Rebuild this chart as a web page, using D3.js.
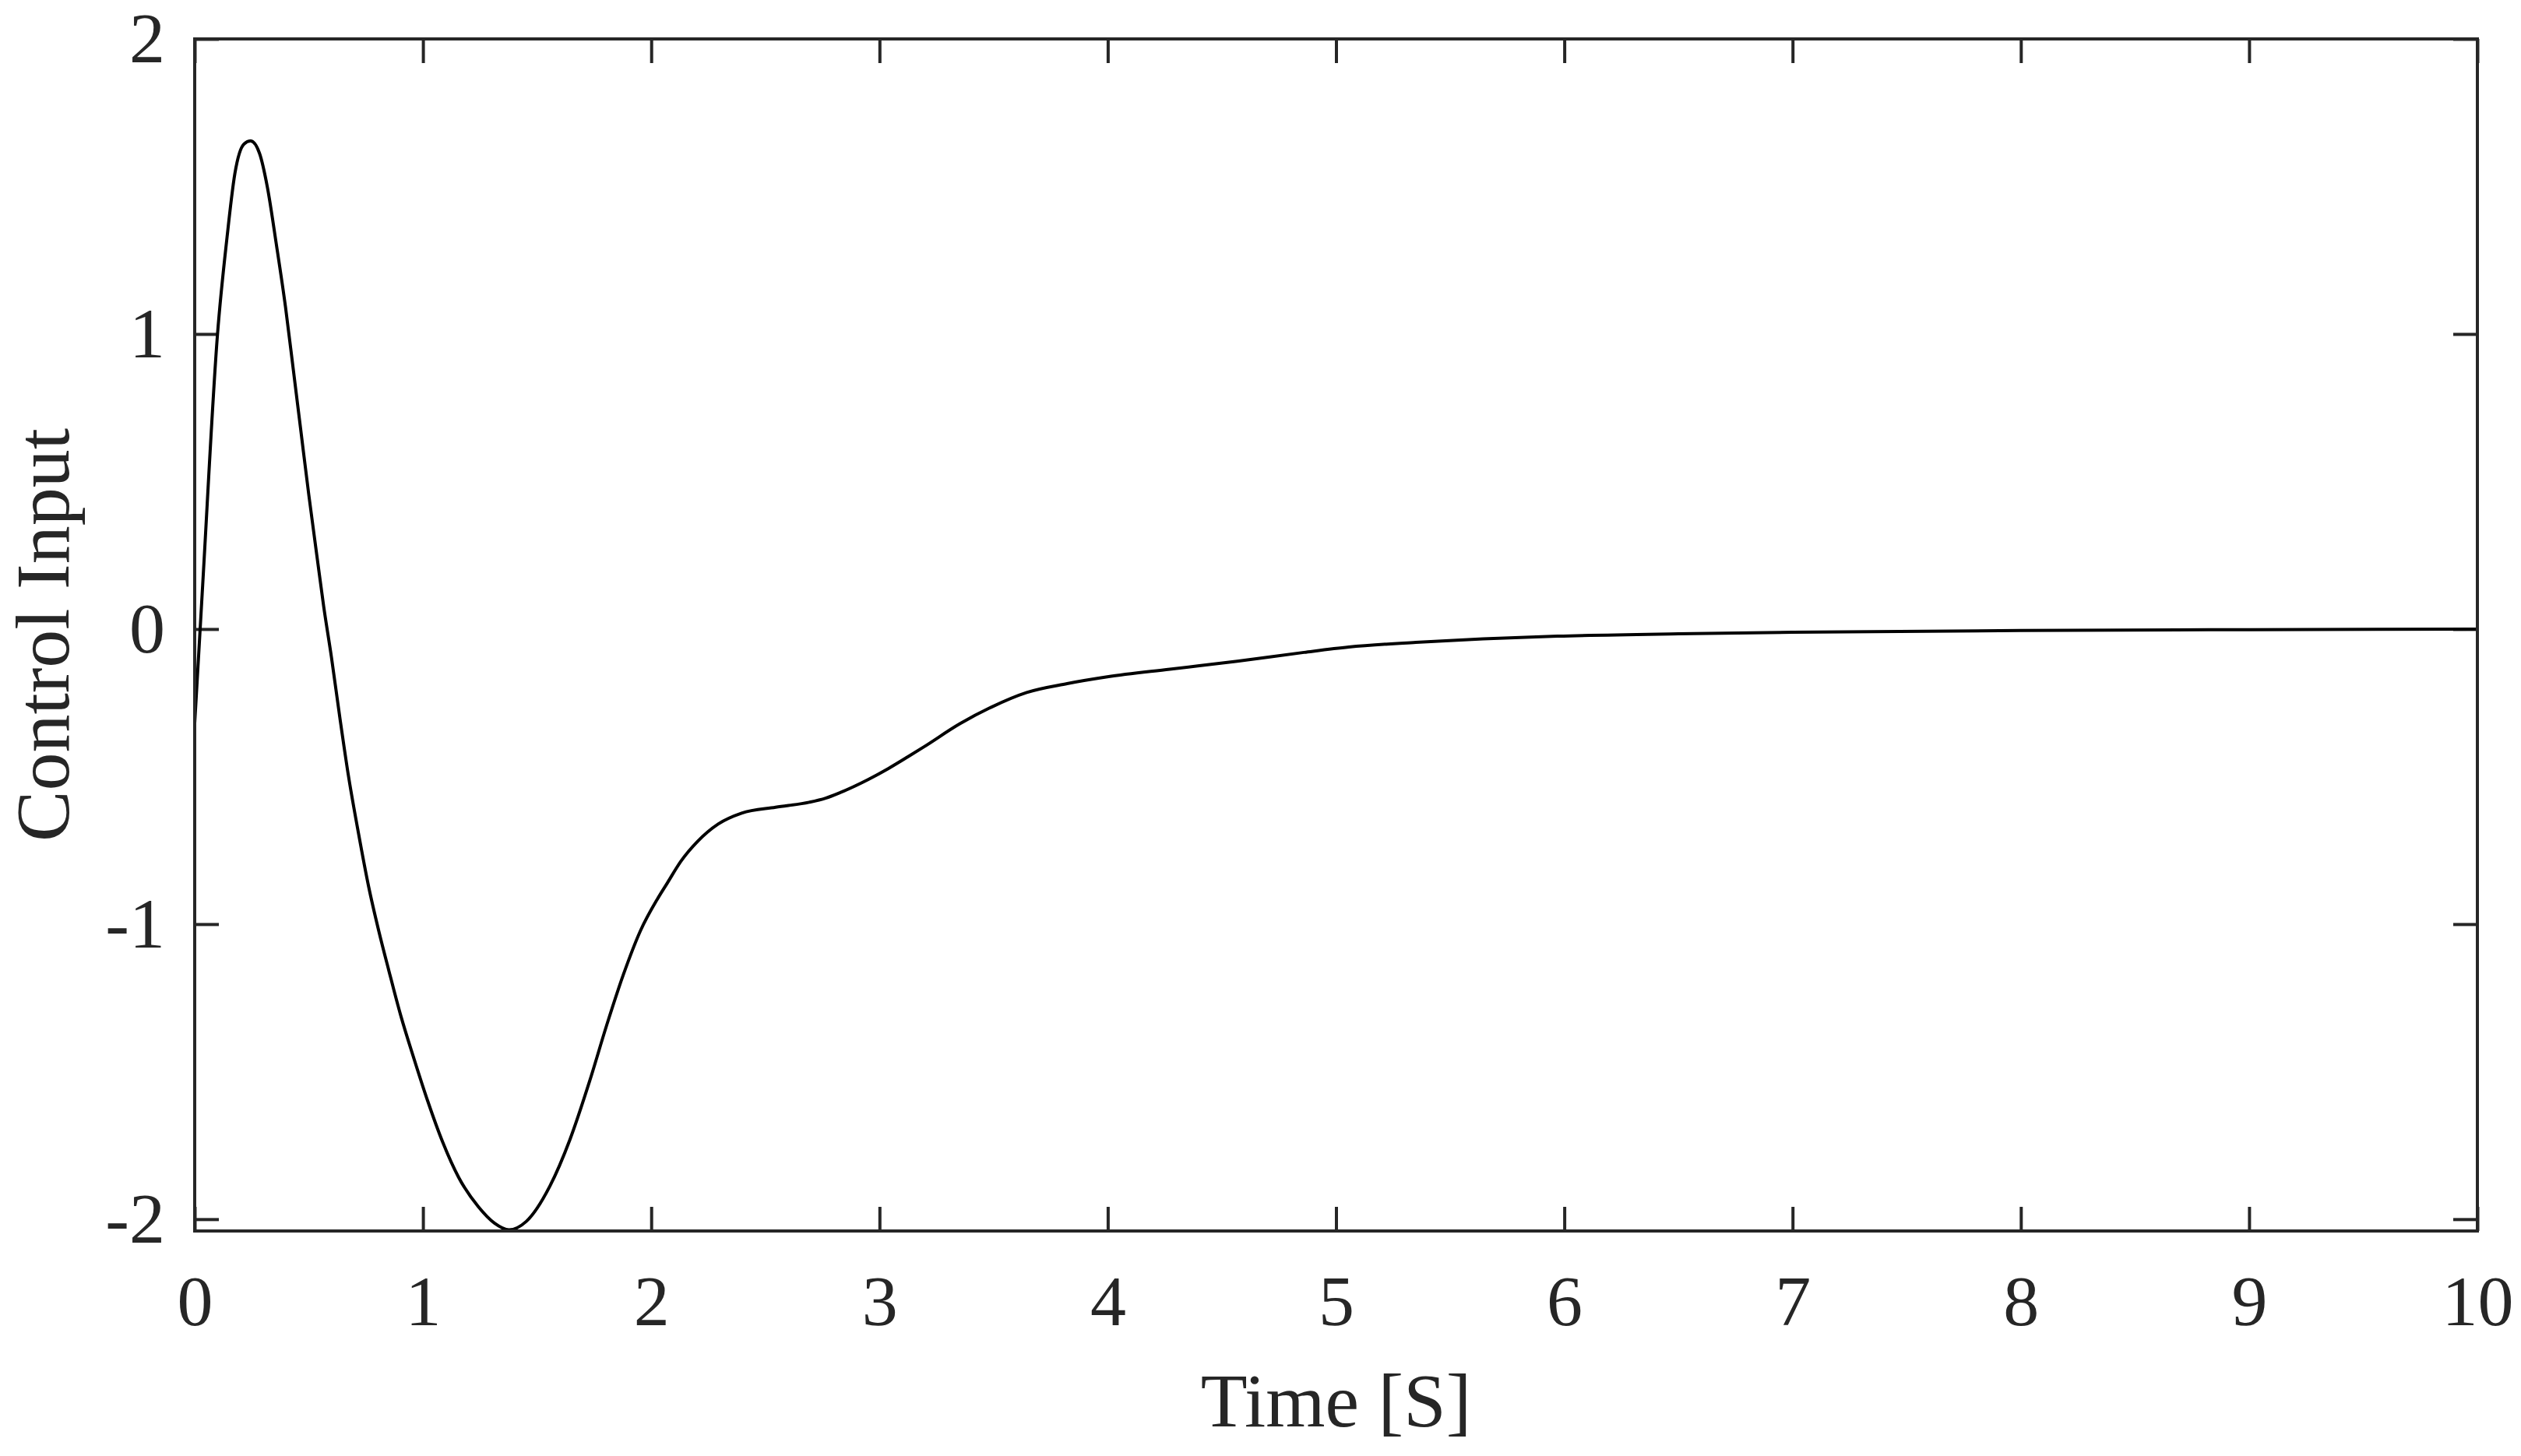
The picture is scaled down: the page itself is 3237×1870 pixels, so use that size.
<!DOCTYPE html>
<html>
<head>
<meta charset="utf-8">
<script src="https://cdn.jsdelivr.net/npm/d3@7"></script>
<style>
    body { margin: 0; background: #fff; }
    svg text { font-family: "Liberation Serif", "Times New Roman", serif; fill: #262626; }
</style>
</head>
<body>
<svg id="chart" width="3237" height="1870"></svg>
<script>
// Control input over time
const timeValues = [
    0, 0.035, 0.1, 0.142, 0.176, 0.216, 0.245, 0.284, 0.318, 0.358,
    0.398, 0.432, 0.466, 0.5, 0.535, 0.565, 0.599, 0.636, 0.673, 0.717,
    0.762, 0.806, 0.851, 0.902, 0.961, 1.021, 1.087, 1.156, 1.243, 1.313,
    1.377, 1.452, 1.556, 1.644, 1.731, 1.805, 1.878, 1.953, 2.027, 2.071,
    2.13, 2.204, 2.293, 2.396, 2.545, 2.692, 2.764, 2.828, 2.95, 3.038,
    3.124, 3.195, 3.352, 3.489, 3.645, 3.822, 3.998, 4.272, 4.567, 4.86,
    5.056, 5.35, 5.644, 5.97, 6.5, 7.0, 8.0, 9.0, 10.0
];
const controlValues = [
    -0.32, 0.15, 1.0, 1.33, 1.544, 1.644, 1.654, 1.612, 1.499, 1.302,
    1.09, 0.879, 0.666, 0.454, 0.25, 0.077, -0.095, -0.301, -0.495, -0.69,
    -0.873, -1.022, -1.159, -1.308, -1.457, -1.6, -1.74, -1.858, -1.958, -2.013,
    -2.036, -2.008, -1.888, -1.73, -1.53, -1.342, -1.171, -1.022, -0.915, -0.86,
    -0.787, -0.719, -0.661, -0.624, -0.604, -0.587, -0.573, -0.554, -0.51, -0.473,
    -0.433, -0.399, -0.321, -0.265, -0.215, -0.185, -0.162, -0.136, -0.109, -0.079,
    -0.061, -0.045, -0.033, -0.024, -0.016, -0.011, -0.005, -0.002, 0.0
];
const xTicks = [0, 1, 2, 3, 4, 5, 6, 7, 8, 9, 10];
const yTicks = [-2, -1, 0, 1, 2];
const xLabel = 'Time [S]';
const yLabel = 'Control Input';

const AXIS_COLOR = '#262626';
const box = { left: 250, right: 3181, top: 50, bottom: 1581 };

const svg = d3.select('#chart');
svg.append('rect').attr('width', 3237).attr('height', 1870).attr('fill', '#fff');

const x = d3.scaleLinear().domain([0, 10]).range([box.left, box.right]);
const y = d3.scaleLinear().domain([-2.04, 2]).range([box.bottom, box.top]);

function styleAxis(g) {
    g.select('.domain').remove();
    g.selectAll('.tick line').attr('stroke', AXIS_COLOR).attr('stroke-width', 4);
    g.selectAll('.tick text')
        .attr('fill', AXIS_COLOR)
        .style('font-size', '92px');
}

// Bottom and left axes with labels, ticks pointing inward
svg.append('g')
    .attr('transform', `translate(0,${box.bottom})`)
    .call(d3.axisBottom(x).tickValues(xTicks).tickSizeInner(-31).tickSizeOuter(0).tickPadding(56))
    .call(styleAxis);

svg.append('g')
    .attr('transform', `translate(${box.left},0)`)
    .call(d3.axisLeft(y).tickValues(yTicks).tickSizeInner(-31).tickSizeOuter(0).tickPadding(38)
        .tickFormat(d => d < 0 ? '-' + Math.abs(d) : String(d)))
    .call(styleAxis);

// Mirror ticks on top and right
svg.append('g')
    .attr('transform', `translate(0,${box.top})`)
    .call(d3.axisTop(x).tickValues(xTicks).tickSizeInner(-31).tickSizeOuter(0).tickFormat(''))
    .call(styleAxis);

svg.append('g')
    .attr('transform', `translate(${box.right},0)`)
    .call(d3.axisRight(y).tickValues(yTicks).tickSizeInner(-31).tickSizeOuter(0).tickFormat(''))
    .call(styleAxis);

// The curve
const points = timeValues.map((t, i) => [t, controlValues[i]]);
const line = d3.line()
    .x(d => x(d[0]))
    .y(d => y(d[1]))
    .curve(d3.curveMonotoneX);

svg.append('path')
    .datum(points)
    .attr('d', line)
    .attr('fill', 'none')
    .attr('stroke', '#000')
    .attr('stroke-width', 4)
    .attr('stroke-linejoin', 'round');

// Axes box
svg.append('rect')
    .attr('x', box.left)
    .attr('y', box.top)
    .attr('width', box.right - box.left)
    .attr('height', box.bottom - box.top)
    .attr('fill', 'none')
    .attr('stroke', AXIS_COLOR)
    .attr('stroke-width', 4);

// Axis labels
svg.append('text')
    .attr('x', (box.left + box.right) / 2)
    .attr('y', 1832)
    .attr('text-anchor', 'middle')
    .style('font-size', '98px')
    .text(xLabel);

svg.append('text')
    .attr('transform', `translate(88,${(box.top + box.bottom) / 2}) rotate(-90)`)
    .attr('text-anchor', 'middle')
    .style('font-size', '98px')
    .text(yLabel);
</script>
</body>
</html>
